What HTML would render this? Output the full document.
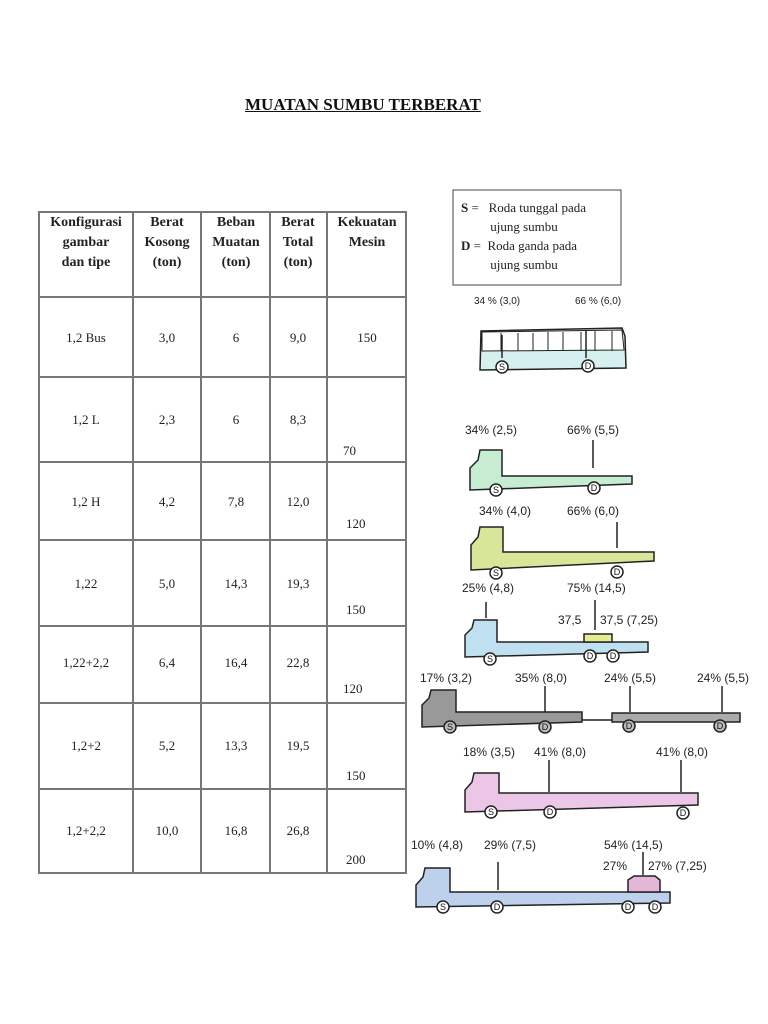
<!DOCTYPE html>
<html><head><meta charset="utf-8"><style>
body{margin:0;width:768px;height:1024px;background:#fff;position:relative;font-family:"Liberation Serif",serif;overflow:hidden}
.a{position:absolute;white-space:nowrap}
.t{font-size:13px;color:#222}
.h{font-weight:bold;font-size:14px;text-align:center;line-height:20px;color:#222}
.c{transform:translateX(-50%)}
</style></head><body>
<div class="a" style="left:245px;top:95px;font-size:17px;font-weight:bold;text-decoration:underline;color:#111">MUATAN SUMBU TERBERAT</div>

<svg class="a" style="left:0;top:0" width="768" height="1024">
<g stroke="#777" stroke-width="2" fill="none">
<rect x="39" y="212" width="367" height="661"/>
<line x1="133" y1="212" x2="133" y2="873"/>
<line x1="201" y1="212" x2="201" y2="873"/>
<line x1="270" y1="212" x2="270" y2="873"/>
<line x1="327" y1="212" x2="327" y2="873"/>
<line x1="39" y1="297" x2="406" y2="297"/>
<line x1="39" y1="377" x2="406" y2="377"/>
<line x1="39" y1="462" x2="406" y2="462"/>
<line x1="39" y1="540" x2="406" y2="540"/>
<line x1="39" y1="626" x2="406" y2="626"/>
<line x1="39" y1="703" x2="406" y2="703"/>
<line x1="39" y1="789" x2="406" y2="789"/>
</g>
<rect x="453" y="190" width="168" height="95" fill="none" stroke="#444" stroke-width="1"/>

<g stroke="#222" stroke-width="1.5" font-family="Liberation Sans, sans-serif" font-size="10">
<!-- bus -->
<path d="M481 331 L622 328 L625 336 L626 368 L480 370 Z" fill="#d6efef"/>
<path d="M482 332 L622 330 L624 350 L482 351 Z" fill="#fff" stroke-width="1"/>
<g stroke-width="1" fill="none">
<line x1="501" y1="333" x2="501" y2="351"/><line x1="518" y1="333" x2="518" y2="351"/><line x1="533" y1="333" x2="533" y2="351"/>
<line x1="548" y1="332" x2="548" y2="351"/><line x1="563" y1="332" x2="563" y2="351"/><line x1="581" y1="332" x2="581" y2="351"/>
<line x1="595" y1="331" x2="595" y2="351"/><line x1="612" y1="331" x2="612" y2="351"/>
</g>
<line x1="586" y1="330" x2="586" y2="358"/>
<line x1="502" y1="335" x2="502" y2="358"/>
<circle cx="502" cy="367" r="6" fill="#fff"/><circle cx="588" cy="366" r="6" fill="#fff"/>
<!-- truck2 -->
<path d="M470 490 L470 468 L478 460 L480 450 L502 450 L502 476 L632 476 L632 484 L470 490Z" fill="#c6ecd2"/>
<circle cx="496" cy="490" r="6" fill="#fff"/><circle cx="594" cy="488" r="6" fill="#fff"/>
<line x1="593" y1="440" x2="593" y2="468"/>
<!-- truck3 -->
<path d="M471 570 L471 545 L478 537 L480 527 L503 527 L503 552 L654 552 L654 561 L471 570Z" fill="#d8e69a"/>
<circle cx="496" cy="573" r="6" fill="#fff"/><circle cx="617" cy="572" r="6" fill="#fff"/>
<line x1="617" y1="522" x2="617" y2="548"/>
<!-- truck4 -->
<path d="M465 657 L465 635 L472 628 L474 620 L497 620 L497 642 L648 642 L648 652 L465 657Z" fill="#bfe0f0"/>
<rect x="584" y="634" width="28" height="8" fill="#e8ec90"/>
<circle cx="490" cy="659" r="6" fill="#fff"/><circle cx="590" cy="656" r="6" fill="#fff"/><circle cx="613" cy="656" r="6" fill="#fff"/>
<line x1="486" y1="602" x2="486" y2="618"/><line x1="595" y1="600" x2="595" y2="630"/>
<!-- truck5 -->
<path d="M422 727 L422 705 L429 698 L431 690 L456 690 L456 712 L582 712 L582 722 L422 727Z" fill="#999"/>
<rect x="612" y="713" width="128" height="9" fill="#aaa"/>
<line x1="582" y1="720" x2="612" y2="720"/>
<circle cx="450" cy="727" r="6" fill="#bbb"/><circle cx="545" cy="727" r="6" fill="#bbb"/><circle cx="629" cy="726" r="6" fill="#bbb"/><circle cx="720" cy="726" r="6" fill="#bbb"/>
<line x1="545" y1="686" x2="545" y2="712"/><line x1="630" y1="686" x2="630" y2="712"/><line x1="722" y1="686" x2="722" y2="712"/>
<!-- truck6 -->
<path d="M465 812 L465 790 L472 782 L474 773 L499 773 L499 793 L698 793 L698 805 L465 812Z" fill="#ecc6e6"/>
<circle cx="491" cy="812" r="6" fill="#fff"/><circle cx="550" cy="812" r="6" fill="#fff"/><circle cx="683" cy="813" r="6" fill="#fff"/>
<line x1="549" y1="760" x2="549" y2="792"/><line x1="681" y1="760" x2="681" y2="792"/>
<!-- truck7 -->
<path d="M416 907 L416 885 L423 877 L425 868 L450 868 L450 892 L670 892 L670 903 L416 907Z" fill="#bdd0ec"/>
<path d="M628 880 L634 876 L655 876 L660 880 L660 892 L628 892Z" fill="#e4b6d8"/>
<circle cx="443" cy="907" r="6" fill="#fff"/><circle cx="497" cy="907" r="6" fill="#fff"/><circle cx="628" cy="907" r="6" fill="#fff"/><circle cx="655" cy="907" r="6" fill="#fff"/>
<line x1="498" y1="862" x2="498" y2="890"/><line x1="643" y1="852" x2="643" y2="875"/>
</g>
<g font-family="Liberation Sans, sans-serif" font-size="9" text-anchor="middle" fill="#111">
<text x="502" y="370">S</text><text x="588" y="369">D</text>
<text x="496" y="493">S</text><text x="594" y="491">D</text>
<text x="496" y="576">S</text><text x="617" y="575">D</text>
<text x="490" y="662">S</text><text x="590" y="659">D</text><text x="613" y="659">D</text>
<text x="450" y="730">S</text><text x="545" y="730">D</text><text x="629" y="729">D</text><text x="720" y="729">D</text>
<text x="491" y="815">S</text><text x="550" y="815">D</text><text x="683" y="816">D</text>
<text x="443" y="910">S</text><text x="497" y="910">D</text><text x="628" y="910">D</text><text x="655" y="910">D</text>
</g>
<g font-family="Liberation Sans, sans-serif" font-size="12" fill="#222">
<text x="474" y="304" font-size="10">34 % (3,0)</text><text x="575" y="304" font-size="10">66 % (6,0)</text>
<text x="465" y="434">34% (2,5)</text><text x="567" y="434">66% (5,5)</text>
<text x="479" y="515">34% (4,0)</text><text x="567" y="515">66% (6,0)</text>
<text x="462" y="592">25% (4,8)</text><text x="567" y="592">75% (14,5)</text>
<text x="558" y="624">37,5</text><text x="600" y="624">37,5 (7,25)</text>
<text x="420" y="682">17% (3,2)</text><text x="515" y="682">35% (8,0)</text><text x="604" y="682">24% (5,5)</text><text x="697" y="682">24% (5,5)</text>
<text x="463" y="756">18% (3,5)</text><text x="534" y="756">41% (8,0)</text><text x="656" y="756">41% (8,0)</text>
<text x="411" y="849">10% (4,8)</text><text x="484" y="849">29% (7,5)</text><text x="604" y="849">54% (14,5)</text>
<text x="603" y="870">27%</text><text x="648" y="870">27% (7,25)</text>
</g>
</svg>

<div class="a t" style="left:461px;top:198px;line-height:19px;font-size:13px">
<b>S</b> = &nbsp;&nbsp;Roda tunggal pada<br>&nbsp;&nbsp;&nbsp;&nbsp;&nbsp;&nbsp;&nbsp;&nbsp;&nbsp;ujung sumbu<br><b>D</b> = &nbsp;Roda ganda pada<br>&nbsp;&nbsp;&nbsp;&nbsp;&nbsp;&nbsp;&nbsp;&nbsp;&nbsp;ujung sumbu</div>

<div class="a h c" style="left:86px;top:213px">Konfigurasi<br>gambar<br>dan tipe</div>
<div class="a h c" style="left:167px;top:213px">Berat<br>Kosong<br>(ton)</div>
<div class="a h c" style="left:236px;top:213px">Beban<br>Muatan<br>(ton)</div>
<div class="a h c" style="left:298px;top:213px">Berat<br>Total<br>(ton)</div>
<div class="a h c" style="left:367px;top:213px">Kekuatan<br>Mesin</div>

<div class="a t c" style="left:86px;top:330px">1,2 Bus</div><div class="a t c" style="left:167px;top:330px">3,0</div><div class="a t c" style="left:236px;top:330px">6</div><div class="a t c" style="left:298px;top:330px">9,0</div><div class="a t c" style="left:367px;top:330px">150</div>
<div class="a t c" style="left:86px;top:412px">1,2 L</div><div class="a t c" style="left:167px;top:412px">2,3</div><div class="a t c" style="left:236px;top:412px">6</div><div class="a t c" style="left:298px;top:412px">8,3</div><div class="a t" style="left:343px;top:443px">70</div>
<div class="a t c" style="left:86px;top:494px">1,2 H</div><div class="a t c" style="left:167px;top:494px">4,2</div><div class="a t c" style="left:236px;top:494px">7,8</div><div class="a t c" style="left:298px;top:494px">12,0</div><div class="a t" style="left:346px;top:516px">120</div>
<div class="a t c" style="left:86px;top:576px">1,22</div><div class="a t c" style="left:167px;top:576px">5,0</div><div class="a t c" style="left:236px;top:576px">14,3</div><div class="a t c" style="left:298px;top:576px">19,3</div><div class="a t" style="left:346px;top:602px">150</div>
<div class="a t c" style="left:86px;top:655px">1,22+2,2</div><div class="a t c" style="left:167px;top:655px">6,4</div><div class="a t c" style="left:236px;top:655px">16,4</div><div class="a t c" style="left:298px;top:655px">22,8</div><div class="a t" style="left:343px;top:681px">120</div>
<div class="a t c" style="left:86px;top:738px">1,2+2</div><div class="a t c" style="left:167px;top:738px">5,2</div><div class="a t c" style="left:236px;top:738px">13,3</div><div class="a t c" style="left:298px;top:738px">19,5</div><div class="a t" style="left:346px;top:768px">150</div>
<div class="a t c" style="left:86px;top:823px">1,2+2,2</div><div class="a t c" style="left:167px;top:823px">10,0</div><div class="a t c" style="left:236px;top:823px">16,8</div><div class="a t c" style="left:298px;top:823px">26,8</div><div class="a t" style="left:346px;top:852px">200</div>
</body></html>
